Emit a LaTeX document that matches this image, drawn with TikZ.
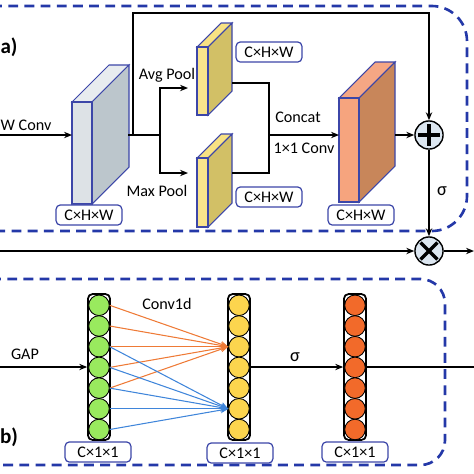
\documentclass[tikz,border=0pt]{standalone}
\usepackage{fontspec}
\setmainfont{Carlito}
\usetikzlibrary{arrows.meta,positioning}

\definecolor{dashblue}{HTML}{2438A8}
\definecolor{slabedge}{HTML}{3C46A8}
\definecolor{opfill}{HTML}{DCE6F0}
\definecolor{cgreen}{HTML}{99EA5E}
\definecolor{cyellow}{HTML}{FCD54E}
\definecolor{corange}{HTML}{F26A2A}
\definecolor{lorange}{HTML}{EE7A36}
\definecolor{lblue}{HTML}{3F85DA}
\definecolor{grayfront}{HTML}{DDE2E6}
\definecolor{grayside}{HTML}{BCC6CC}
\definecolor{graytop}{HTML}{E8ECEF}
\definecolor{yelfront}{HTML}{F9E48C}
\definecolor{yelside}{HTML}{D2C066}
\definecolor{yeltop}{HTML}{F8E283}
\definecolor{orafront}{HTML}{F6A47E}
\definecolor{oraside}{HTML}{C8865A}
\definecolor{oratop}{HTML}{F5A784}

% one 3-d feature map: name, x, top, width, height, depth, front, side, top colour
\newcommand{\slab}[9]{%
  \filldraw[slabline,fill=#9] (#2,#3) -- ++(#6,-#6) -- ++(#4,0) -- ++(-#6,#6) -- cycle;
  \filldraw[slabline,fill=#8] (#2+#4,#3) -- ++(#6,-#6) -- ++(0,#5) -- ++(-#6,#6) -- cycle;
  \filldraw[slabline,fill=#7] (#2,#3) rectangle ++(#4,#5);
}

\begin{document}
\begin{tikzpicture}[x=0.02cm,y=-0.02cm,font=\fontsize{9.2}{11}\selectfont,
    wire/.style={line width=0.8pt},
    arr/.style={wire,-{Stealth[length=4.5pt,width=3.6pt]}},
    slabline/.style={draw=slabedge,line width=0.6pt},
    group/.style={draw=dashblue,line width=1.5pt,dash pattern=on 5.6pt off 3.6pt},
    dimbox/.style={draw=slabedge,fill=white,rounded corners=2.5pt,line width=0.7pt,
      minimum width=37.5pt,minimum height=11.5pt,inner sep=1pt},
    op/.style={circle,draw,fill=opfill,line width=0.8pt,minimum size=16pt,inner sep=0pt},
    column/.style={draw,rounded corners=2.5pt,line width=1pt,minimum width=12.5pt,minimum height=83pt,inner sep=0pt},
    cell/.style={circle,draw,line width=0.5pt,minimum size=11.7pt,inner sep=0pt},
    sig/.style={font=\fontsize{10.5}{12}\selectfont}]

  \useasboundingbox (0,0) rectangle (474,474);
  \clip (0,0) rectangle (474,474);

  % dashed groups
  \draw[group,rounded corners=20pt] (-40,6) rectangle (467,231);
  \draw[group,rounded corners=14pt] (-40,279) rectangle (445,465);

  \node[font=\fontsize{12}{14}\bfseries] (la) at (9,47) {a)};
  \node[font=\fontsize{12}{14}\bfseries] (lb) at (9,437) {b)};

  % ---- a) ----
  \slab{conv}{72}{102}{20}{102}{37}{grayfront}{grayside}{graytop}
  \slab{avg}{197}{47}{11}{68}{24}{yelfront}{yelside}{yeltop}
  \slab{max}{197}{158}{11}{69}{24}{yelfront}{yelside}{yeltop}
  \slab{cat}{339}{98}{20}{104}{36}{orafront}{oraside}{oratop}

  \coordinate (ain)    at (0,135);
  \coordinate (convin) at (72,135);
  \coordinate (convout) at (128,135);
  \coordinate (skip)   at (133,135);
  \coordinate (split)  at (160,135);
  \coordinate (avgin)  at (188,88);
  \coordinate (maxin)  at (188,173);
  \coordinate (avgout) at (232,83);
  \coordinate (maxout) at (232,173);
  \coordinate (merge)  at (269,135);
  \coordinate (catin)  at (339,135);
  \coordinate (catout) at (395,135);
  \coordinate (xin)    at (0,251);
  \coordinate (xout)   at (474,251);

  \node[op] (plus) at (429,135) {};
  \node[op] (mult) at (429,251) {};
  \draw[line width=2.3pt] ([xshift=-6.2pt]plus.center) -- ([xshift=6.2pt]plus.center)
    ([yshift=-6.2pt]plus.center) -- ([yshift=6.2pt]plus.center);
  \draw[line width=2pt] ([shift={(-4.8pt,-4.8pt)}]mult.center) -- ([shift={(4.8pt,4.8pt)}]mult.center)
    ([shift={(-4.8pt,4.8pt)}]mult.center) -- ([shift={(4.8pt,-4.8pt)}]mult.center);

  \draw[arr] (ain) -- (convin);
  \draw[wire] (convout) -- (split);
  \draw[arr] (skip) |- (429,13) -- (plus.north);
  \draw[arr] (split) |- (avgin);
  \draw[arr] (split) |- (maxin);
  \draw[wire] (avgout) -| (merge);
  \draw[wire] (maxout) -| (merge);
  \draw[arr] (merge) -- (catin);
  \draw[arr] (catout) -- (plus.west);
  \draw[arr] (plus.south) -- (mult.north);
  \draw[arr] (xin) -- (mult.west);
  \draw[arr] (mult.east) -- (xout);

  \node (wconv) at (26,125) {W Conv};
  \node (avgl)  at (167,75) {Avg Pool};
  \node (maxl)  at (157,191) {Max Pool};
  \node (catl)  at (298,117) {Concat};
  \node (convl) at (304,148) {1×1 Conv};
  \node[sig] (sa) at (442,191) {σ};

  \node[dimbox] (dconv) at (89,215) {C×H×W};
  \node[dimbox] (davg)  at (269,52)  {C×H×W};
  \node[dimbox] (dmax)  at (269,197) {C×H×W};
  \node[dimbox] (dcat)  at (361,215) {C×H×W};

  % ---- b) ----
  \node[column] (gcol) at (99,367) {};
  \node[column] (ycol) at (239,367) {};
  \node[column] (ocol) at (355,367) {};
  \foreach \i in {1,...,7} {
    \node[cell,fill=cgreen]  (g\i) at (99,{284.6+20.7*\i}) {};
    \node[cell,fill=cyellow] (y\i) at (239,{284.6+20.7*\i}) {};
    \node[cell,fill=corange] (o\i) at (355,{284.6+20.7*\i}) {};
  }
  \foreach \i in {1,...,5}
    \draw[line width=0.6pt,draw=lorange,-{Stealth[length=4.5pt,width=3.6pt]}] (g\i.east) -- (y3.west);
  \foreach \i in {3,...,7}
    \draw[line width=0.6pt,draw=lblue,-{Stealth[length=4.5pt,width=3.6pt]}] (g\i.east) -- (y6.west);

  \coordinate (bin)  at (0,367);
  \coordinate (bout) at (474,367);
  \draw[arr] (bin) -- (gcol.west);
  \draw[arr] (ycol.east) -- (ocol.west);
  \draw[wire] (ocol.east) -- (bout);

  \node (gap)  at (25,354) {GAP};
  \node (c1d)  at (167,304) {Conv1d};
  \node[sig] (sb) at (295,357) {σ};

  \node[dimbox] (dg) at (98,452)  {C×1×1};
  \node[dimbox] (dy) at (240,453) {C×1×1};
  \node[dimbox] (do) at (355,452) {C×1×1};
\end{tikzpicture}
\end{document}
